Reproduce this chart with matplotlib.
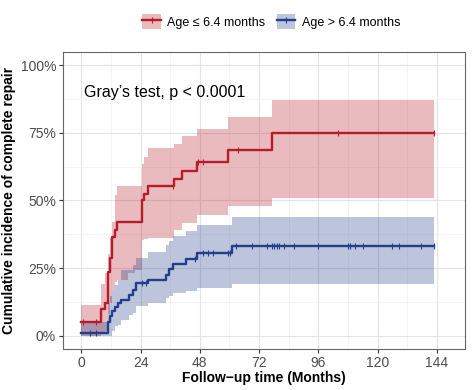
import matplotlib
matplotlib.use("Agg")
import matplotlib.pyplot as plt
import numpy as np
from matplotlib.patches import Patch
from matplotlib.lines import Line2D
from matplotlib.ticker import FuncFormatter, MultipleLocator

plt.rcParams['font.family'] = ['Liberation Sans', 'DejaVu Sans']

# cumulative incidence (%) by group, step times in months
red_time = [0, 7.8, 9.4, 10.8, 11.5, 12.5, 13.6, 14.4, 19.0, 21.8, 24.5, 25.5, 27.2, 37.6, 40.7, 46.8, 59.5, 77.3]
red_est = [4.9, 9.8, 12.0, 23.5, 28.7, 36.6, 39.1, 42.2, 42.2, 42.2, 50.0, 52.4, 55.3, 57.8, 61.0, 64.3, 68.6, 75.0]
red_upper = [11.4, 19, 23, 30, 36, 42, 52, 55.5, 55.5, 55.5, 63.5, 66, 69.5, 71, 73.8, 76.6, 81, 87]
red_lower = [0, 0.5, 1.5, 8, 12, 17, 20, 20.7, 23, 24.4, 35.5, 35.7, 36, 39, 41.6, 44.6, 48, 50.8]
red_censor = [0.5, 5.8, 37.0, 47.4, 49.4, 63.6, 104, 143]

blue_time = [0, 10.8, 11.5, 12.5, 13.5, 14.8, 16.2, 19.5, 20.9, 22.0, 27.2, 34.4, 35.7, 37.3, 42.4, 47.0, 60.9]
blue_est = [1.1, 5.0, 7.1, 9.0, 10.4, 12.0, 13.3, 15.1, 17.0, 19.3, 20.7, 22.5, 24.6, 26.6, 28.3, 30.5, 33.0]
blue_upper = [5, 12, 14.5, 17, 18.8, 20.7, 24.4, 24.4, 26, 28.8, 30.8, 33.5, 35, 37, 38.8, 41, 44]
blue_lower = [0, 0, 0, 1.5, 3.4, 4, 5.9, 7.5, 8.4, 10.8, 12.1, 13.9, 14.5, 15.8, 16.5, 17.6, 19]
blue_censor = [3.4, 6.1, 24.6, 26.1, 46.1, 49.4, 51.5, 53.2, 59.5, 60.2, 62.5, 69.2, 75.3, 77.3, 78.2,
               79.1, 80.1, 82.2, 86.0, 95.9, 108.0, 108.8, 110.7, 114.0, 126.0, 128.7, 137.7, 143]

end_time = 143
labels = ['Age \u2264 6.4 months', 'Age > 6.4 months']
red = '#B71C2A'
blue = '#233F8C'


def extend(t, v):
    return np.array(t + [end_time]), np.array(v + [v[-1]]) / 100


def value_at(t, v, x):
    idx = np.searchsorted(t, x, side='right') - 1
    return np.array(v)[idx] / 100


fig = plt.figure(figsize=(4.74, 3.9), dpi=100)
ax = fig.add_axes([0.133, 0.105, 0.848, 0.762])

groups = [
    (red_time, red_est, red_lower, red_upper, red_censor, red),
    (blue_time, blue_est, blue_lower, blue_upper, blue_censor, blue),
]
for t, est, lo, up, cens, col in groups:
    tx, e = extend(t, est)
    _, l = extend(t, lo)
    _, u = extend(t, up)
    ax.fill_between(tx, l, u, step='post', color=col, alpha=0.3, lw=0, zorder=2)
    ax.step(tx, e, where='post', color=col, lw=1.7, zorder=3)
    ax.plot(cens, value_at(t, est, cens), ls='none', marker='|', ms=5, mew=0.8, color=col, zorder=4)

ax.set_xlim(-7.4, 155.4)
ax.set_ylim(-0.05, 1.05)
ax.xaxis.set_major_locator(MultipleLocator(24))
ax.xaxis.set_minor_locator(MultipleLocator(12))
ax.yaxis.set_major_locator(MultipleLocator(0.25))
ax.yaxis.set_minor_locator(MultipleLocator(0.125))
ax.yaxis.set_major_formatter(FuncFormatter(lambda v, p: '%d%%' % round(v * 100)))
ax.grid(True, which='major', color='#E3E3E3', lw=0.8, zorder=0)
ax.grid(True, which='minor', color='#F0F0F0', lw=0.5, zorder=0)
ax.set_axisbelow(True)
ax.tick_params(which='major', length=3, color='#333333', labelsize=10, labelcolor='#4D4D4D', pad=2)
ax.tick_params(which='minor', length=0)
for s in ax.spines.values():
    s.set_color('#666666')
    s.set_linewidth(0.8)

ax.set_xlabel('Follow\u2212up time (Months)', fontsize=10, fontweight='bold', labelpad=1)
ax.set_ylabel('Cumulative incidence of complete repair', fontsize=10, fontweight='bold', labelpad=3)
ax.text(1, 0.9, 'Gray\u2019s test, p < 0.0001', fontsize=11.5, va='center', ha='left')

handles = []
for col in [red, blue]:
    handles.append((Patch(facecolor=col, alpha=0.3, lw=0),
                    Line2D([], [], color=col, lw=1.7, marker='|', ms=5, mew=0.8)))
fig.legend(handles, labels, loc='center', bbox_to_anchor=(0.572, 0.944), ncol=2, frameon=False,
           fontsize=9, handlelength=1.5, handleheight=1.5, columnspacing=0.9, handletextpad=0.5)

fig.savefig('out.png', dpi=100)
